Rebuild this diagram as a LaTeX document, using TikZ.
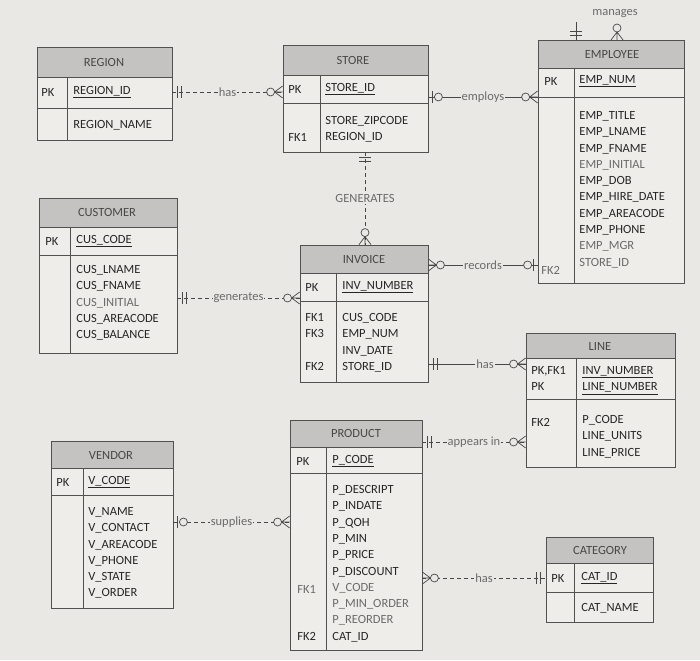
\documentclass[tikz,border=0pt]{standalone}
\usepackage{fontspec}
\setmainfont{Carlito}
\usetikzlibrary{fit}
\definecolor{bg}{HTML}{E9E8E5}
\definecolor{hdr}{HTML}{C4C3C1}
\definecolor{bodyc}{HTML}{EEEDEA}
\definecolor{ink}{HTML}{262626}
\definecolor{lite}{HTML}{6A6A6A}
\begin{document}
\begin{tikzpicture}[x=1pt,y=-1pt,
  line width=0.8pt, draw=ink,
  tb/.style={draw=ink!80, fill=bodyc},
  hd/.style={draw=ink!80, fill=hdr},
  box/.style={inner sep=0pt},
  t/.style={font=\fontsize{12.5}{16.3}\selectfont, text=ink, inner sep=0pt, anchor=west, align=left},
  ttl/.style={font=\fontsize{12.5}{14}\selectfont, text=ink!85, inner sep=0pt},
  lbl/.style={font=\fontsize{12.5}{14}\selectfont, text=lite, fill=bg, inner sep=1pt},
  rel/.style={draw=ink!85, line width=0.7pt},
  dsh/.style={rel, dash pattern=on 4pt off 3pt},
  zmany/.pic={\draw[ink!85,line width=0.7pt] (8,0)--(0,-6) (8,0)--(0,0) (8,0)--(0,6); \draw[ink!85,line width=0.7pt,fill=bg] (12,0) circle (4);},
  one/.pic={\draw[ink!85,line width=0.7pt] (5,-6)--(5,6) (9,-6)--(9,6);},
  zone/.pic={\draw[ink!85,line width=0.7pt] (4,-6)--(4,6); \draw[ink!85,line width=0.7pt,fill=bg] (10,0) circle (4);},
]
\fill[bg] (0,0) rectangle (700,660);
\useasboundingbox (0,0) rectangle (700,660);

% REGION
\draw[tb] (37,47) rectangle (172,140); \draw[hd] (37,47) rectangle (172,77);
\draw[ink!80] (37,108)--(172,108) (67,77)--(67,140);
\node[box,fit={(37,47)(172,140)}] (region) {};
\node[ttl] at (104,62) {REGION};
\node[t] at (41,92) {PK}; \node[t] at (73,92) {\underline{REGION\_ID}};
\node[t] at (73,125) {REGION\_NAME};

% STORE
\draw[tb] (283,45) rectangle (428,152); \draw[hd] (283,45) rectangle (428,75);
\draw[ink!80] (283,103)--(428,103) (320,75)--(320,152);
\node[box,fit={(283,45)(428,152)}] (store) {};
\node[ttl] at (353,60) {STORE};
\node[t] at (288,89) {PK}; \node[t] at (325,89) {\underline{STORE\_ID}};
\node[t] at (325,129) {STORE\_ZIPCODE\\REGION\_ID};
\node[t] at (288,137) {FK1};

% EMPLOYEE
\draw[tb] (538,40) rectangle (684,283); \draw[hd] (538,40) rectangle (684,68);
\draw[ink!80] (538,97)--(684,97) (574,68)--(574,283);
\node[box,fit={(538,40)(684,283)}] (emp) {};
\node[ttl] at (612,54) {EMPLOYEE};
\node[t] at (544,81) {PK}; \node[t] at (579,81) {\underline{EMP\_NUM}};
\node[t,anchor=north west] at (579,111) {EMP\_TITLE\\EMP\_LNAME\\EMP\_FNAME\\\textcolor{lite}{EMP\_INITIAL}\\EMP\_DOB\\EMP\_HIRE\_DATE\\EMP\_AREACODE\\EMP\_PHONE\\\textcolor{lite}{EMP\_MGR}\\\textcolor{lite}{STORE\_ID}};
\node[t,text=lite] at (541,270) {FK2};

% CUSTOMER
\draw[tb] (39,198) rectangle (177,353); \draw[hd] (39,198) rectangle (177,227);
\draw[ink!80] (39,255)--(177,255) (70,227)--(70,353);
\node[box,fit={(39,198)(177,353)}] (cust) {};
\node[ttl] at (107,212) {CUSTOMER};
\node[t] at (45,241) {PK}; \node[t] at (76,241) {\underline{CUS\_CODE}};
\node[t,anchor=north west] at (76,265) {CUS\_LNAME\\CUS\_FNAME\\\textcolor{lite}{CUS\_INITIAL}\\CUS\_AREACODE\\CUS\_BALANCE};

% INVOICE
\draw[tb] (300,245) rectangle (428,382); \draw[hd] (300,245) rectangle (428,273);
\draw[ink!80] (300,301)--(428,301) (336,273)--(336,382);
\node[box,fit={(300,245)(428,382)}] (inv) {};
\node[ttl] at (364,259) {INVOICE};
\node[t] at (305,287) {PK}; \node[t] at (342,287) {\underline{INV\_NUMBER}};
\node[t,anchor=north west] at (342,313) {CUS\_CODE\\EMP\_NUM\\INV\_DATE\\STORE\_ID};
\node[t,anchor=north west] at (305,313) {FK1\\FK3\\\\FK2};

% LINE
\draw[tb] (526,333) rectangle (675,467); \draw[hd] (526,333) rectangle (675,358);
\draw[ink!80] (526,399)--(675,399) (576,358)--(576,467);
\node[box,fit={(526,333)(675,467)}] (line) {};
\node[ttl] at (600,346) {LINE};
\node[t,anchor=north west] at (531,366) {PK,FK1\\PK};
\node[t,anchor=north west] at (582,366) {\underline{INV\_NUMBER}\\\underline{LINE\_NUMBER}};
\node[t] at (531,422) {FK2};
\node[t,anchor=north west] at (582,415) {P\_CODE\\LINE\_UNITS\\LINE\_PRICE};

% PRODUCT
\draw[tb] (290,420) rectangle (422,650); \draw[hd] (290,420) rectangle (422,447);
\draw[ink!80] (290,473)--(422,473) (326,447)--(326,650);
\node[box,fit={(290,420)(422,650)}] (prod) {};
\node[ttl] at (356,433) {PRODUCT};
\node[t] at (296,461) {PK}; \node[t] at (332,461) {\underline{P\_CODE}};
\node[t,anchor=north west] at (332,485) {P\_DESCRIPT\\P\_INDATE\\P\_QOH\\P\_MIN\\P\_PRICE\\P\_DISCOUNT\\\textcolor{lite}{V\_CODE}\\\textcolor{lite}{P\_MIN\_ORDER}\\\textcolor{lite}{P\_REORDER}\\CAT\_ID};
\node[t,text=lite] at (297,589) {FK1};
\node[t] at (297,636) {FK2};

% VENDOR
\draw[tb] (51,441) rectangle (173,608); \draw[hd] (51,441) rectangle (173,468);
\draw[ink!80] (51,495)--(173,495) (83,468)--(83,608);
\node[box,fit={(51,441)(173,608)}] (vend) {};
\node[ttl] at (111,455) {VENDOR};
\node[t] at (56,482) {PK}; \node[t] at (88,482) {\underline{V\_CODE}};
\node[t,anchor=north west] at (88,507) {V\_NAME\\V\_CONTACT\\V\_AREACODE\\V\_PHONE\\V\_STATE\\V\_ORDER};

% CATEGORY
\draw[tb] (546,537) rectangle (653,622); \draw[hd] (546,537) rectangle (653,563);
\draw[ink!80] (546,592)--(653,592) (574,563)--(574,622);
\node[box,fit={(546,537)(653,622)}] (cat) {};
\node[ttl] at (600,550) {CATEGORY};
\node[t] at (551,578) {PK}; \node[t] at (581,578) {\underline{CAT\_ID}};
\node[t] at (581,608) {CAT\_NAME};

% Relationships
\coordinate (rA) at (region.east|-0,92); \coordinate (rB) at (store.west|-0,92);
\draw[dsh] (rA)--(rB) node[lbl,midway] {has};
\pic at (rA) {one}; \pic[rotate=180] at (rB) {zmany};

\coordinate (eA) at (store.east|-0,97); \coordinate (eB) at (emp.west|-0,97);
\draw[rel] (eA)--(eB) node[lbl,midway] {employs};
\pic at (eA) {zone}; \pic[rotate=180] at (eB) {zmany};

\coordinate (mA) at (576,40); \coordinate (mB) at (617,40);
\node[lbl] (mg) at (615,14) {manages};
\draw[rel] (mA)--++(0,-18); \pic[rotate=90] at (mA) {one};
\pic[rotate=90] at (mB) {zmany};

\coordinate (gA) at (store.south-|365,0); \coordinate (gB) at (inv.north-|365,0);
\draw[dsh] (gA)--(gB) node[lbl,pos=0.5] {GENERATES};
\pic[rotate=-90] at (gA) {one}; \pic[rotate=90] at (gB) {zmany};

\coordinate (vA) at (inv.east|-0,265); \coordinate (vB) at (emp.west|-0,265);
\draw[rel] (vA)--(vB) node[lbl,midway] {records};
\pic at (vA) {zmany}; \pic[rotate=180] at (vB) {zone};

\coordinate (cA) at (cust.east|-0,298); \coordinate (cB) at (inv.west|-0,298);
\draw[dsh] (cA)--(cB) node[lbl,midway] {generates};
\pic at (cA) {one}; \pic[rotate=180] at (cB) {zmany};

\coordinate (lA) at (inv.east|-0,364); \coordinate (lB) at (line.west|-0,364);
\draw[rel] (lA)--(lB) node[lbl,midway,xshift=8pt] {has};
\pic at (lA) {one}; \pic[rotate=180] at (lB) {zmany};

\coordinate (pA) at (prod.east|-0,442); \coordinate (pB) at (line.west|-0,442);
\draw[dsh] (pA)--(pB) node[lbl,midway] {appears in};
\pic at (pA) {one}; \pic[rotate=180] at (pB) {zmany};

\coordinate (sA) at (vend.east|-0,522); \coordinate (sB) at (prod.west|-0,522);
\draw[dsh] (sA)--(sB) node[lbl,midway] {supplies};
\pic at (sA) {zone}; \pic[rotate=180] at (sB) {zmany};

\coordinate (kA) at (prod.east|-0,578); \coordinate (kB) at (cat.west|-0,578);
\draw[dsh] (kA)--(kB) node[lbl,midway] {has};
\pic at (kA) {zmany}; \pic[rotate=180] at (kB) {one};
\end{tikzpicture}
\end{document}
